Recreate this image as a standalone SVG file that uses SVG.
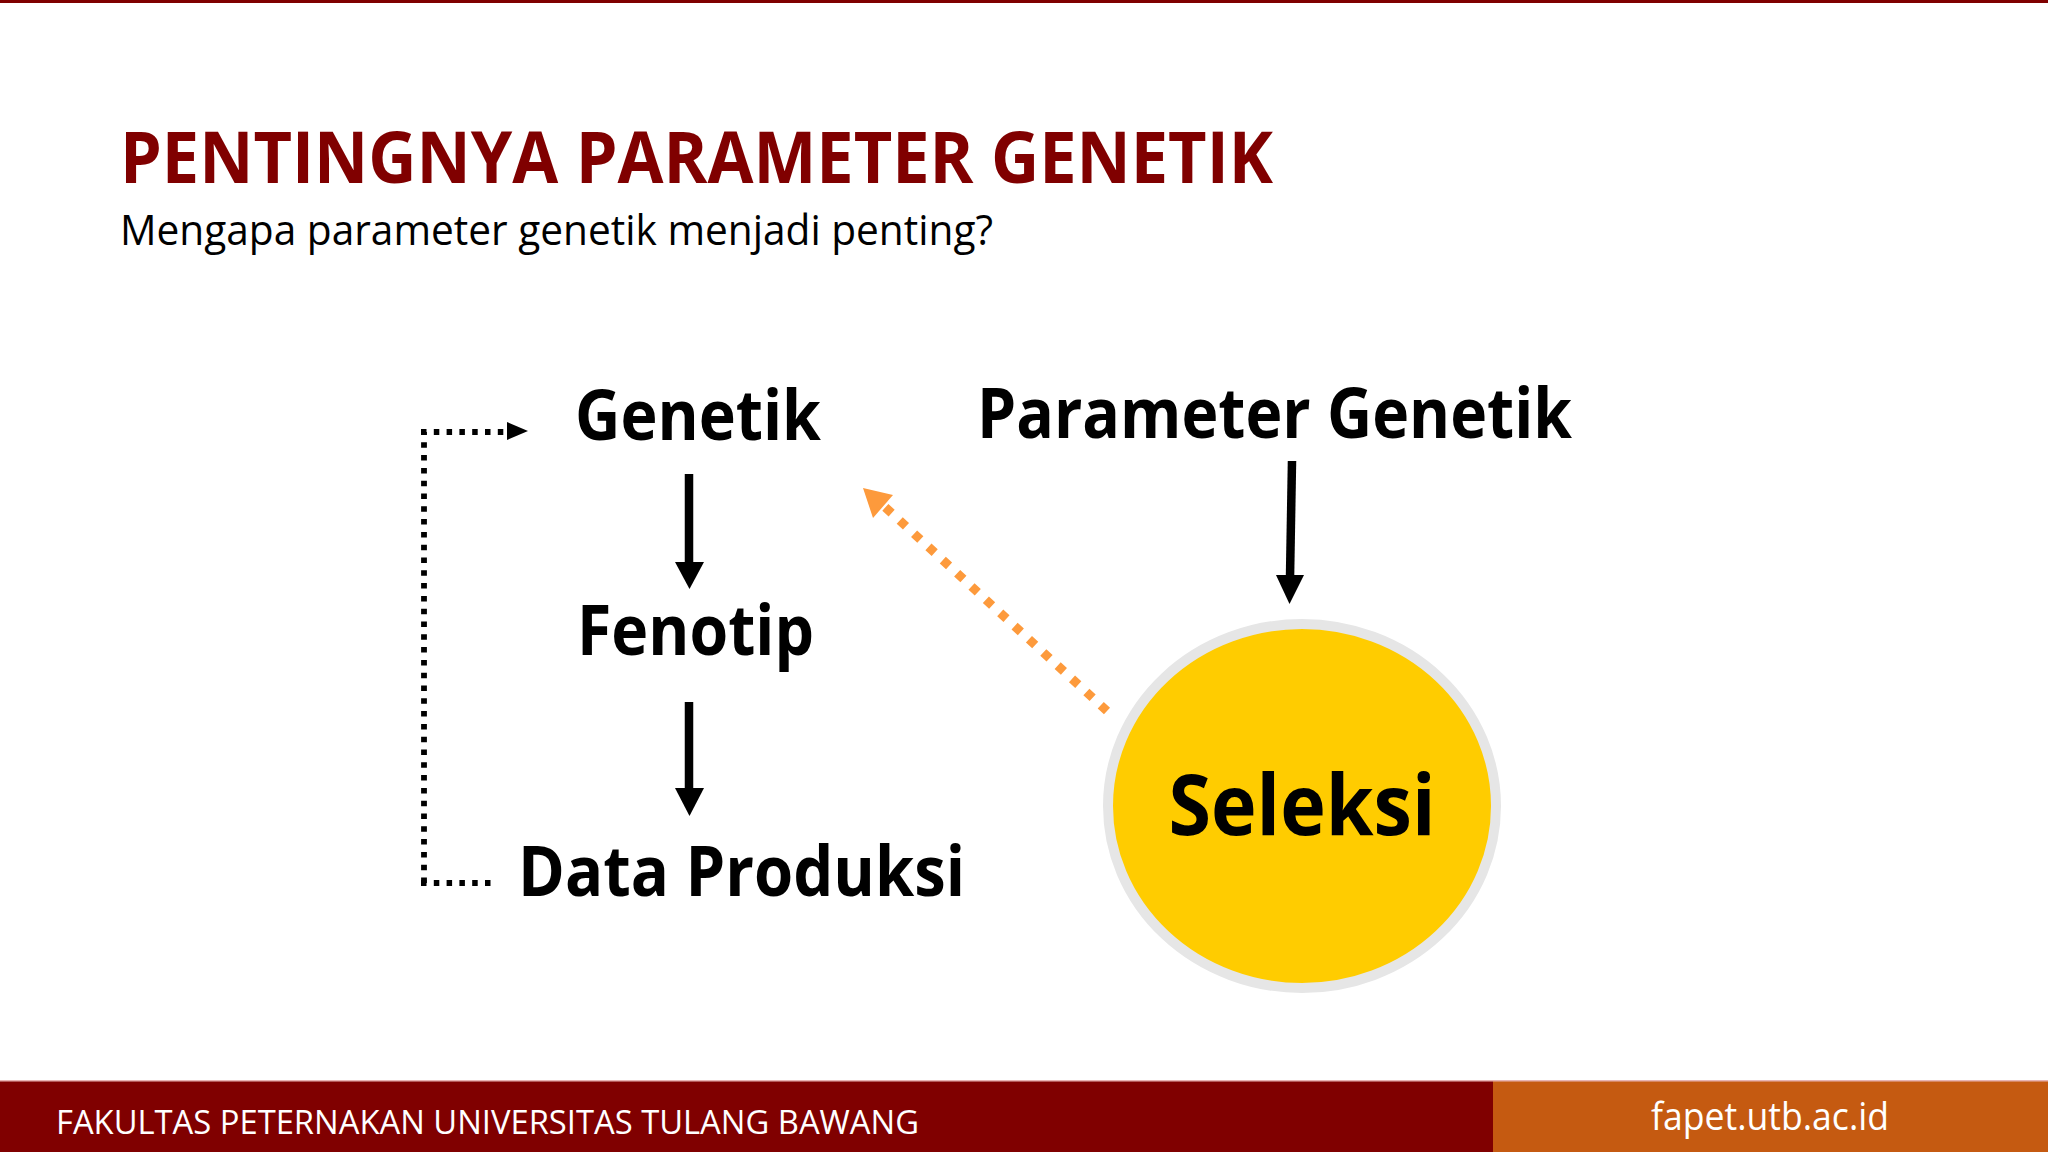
<svg xmlns="http://www.w3.org/2000/svg" width="2048" height="1152" viewBox="0 0 2048 1152">
<style>
.node{font-family:"Open Sans","Noto Sans","Liberation Sans",sans-serif;font-weight:700;fill:#000;}
.title{font-family:"Open Sans","Noto Sans","Liberation Sans",sans-serif;font-weight:700;fill:#800000;}
.sub{font-family:"Open Sans","Noto Sans","Liberation Sans",sans-serif;font-weight:400;fill:#000;}
.foot{font-family:"Open Sans","Noto Sans","Liberation Sans",sans-serif;font-weight:400;fill:#fff;}
.shaft{stroke:#000;stroke-width:8.5;fill:none;}
.loop{stroke:#000;stroke-width:5.8;fill:none;stroke-dasharray:5.5 7.3;}
.orange{stroke:#fd9a3c;stroke-width:9;fill:none;stroke-dasharray:8.5 11;}
</style>
<rect x="0" y="0" width="2048" height="1152" fill="#ffffff"/>
<rect x="0" y="0" width="2048" height="3" fill="#7f0000"/>
<g id="header">
<text class="title" x="120" y="183" font-size="72" textLength="1153" lengthAdjust="spacingAndGlyphs">PENTINGNYA PARAMETER GENETIK</text>
<text class="sub" x="120" y="245" font-size="42" textLength="873" lengthAdjust="spacingAndGlyphs">Mengapa parameter genetik menjadi penting?</text>
</g>
<g id="node-genetik"><text class="node" x="575" y="440" font-size="69" textLength="246" lengthAdjust="spacingAndGlyphs">Genetik</text></g>
<g id="node-fenotip"><text class="node" x="577" y="655" font-size="69" textLength="237" lengthAdjust="spacingAndGlyphs">Fenotip</text></g>
<g id="node-data"><text class="node" x="518" y="896" font-size="69" textLength="447" lengthAdjust="spacingAndGlyphs">Data Produksi</text></g>
<g id="node-parameter"><text class="node" x="977" y="438" font-size="69" textLength="595" lengthAdjust="spacingAndGlyphs">Parameter Genetik</text></g>
<g id="node-seleksi">
<ellipse cx="1302" cy="806" rx="194" ry="182" fill="#ffcc00" stroke="#e6e6e6" stroke-width="10"/>
<text class="node" x="1302" y="835" font-size="85" text-anchor="middle" textLength="267" lengthAdjust="spacingAndGlyphs">Seleksi</text>
</g>
<g id="connectors">
<line class="shaft" x1="689" y1="474" x2="689" y2="565"/>
<polygon points="675,562 704,562 689.5,589" fill="#000"/>
<line class="shaft" x1="689" y1="702" x2="689" y2="791"/>
<polygon points="675,788 704,788 689.5,816" fill="#000"/>
<line class="shaft" x1="1292" y1="461" x2="1290" y2="578"/>
<polygon points="1276,575 1304,575 1289.5,604" fill="#000"/>
<path class="loop" d="M424,883 L424,432"/>
<path class="loop" d="M421,432 L509,432"/>
<path class="loop" d="M421,883 L492,883"/>
<polygon points="507,422 528,431 507,440" fill="#000"/>
<line class="orange" x1="1107" y1="711" x2="885" y2="507"/>
<polygon points="863,488 893,495 873,518" fill="#fd9a3c"/>
</g>
<g id="footer">
<rect x="0" y="1080" width="1493" height="72" fill="#800000"/>
<rect x="1493" y="1080" width="555" height="72" fill="#c55a11"/>
<rect x="0" y="1080" width="2048" height="1.5" fill="#e8b4b4"/>
<text class="foot" x="56" y="1134" font-size="33" textLength="863" lengthAdjust="spacingAndGlyphs">FAKULTAS PETERNAKAN UNIVERSITAS TULANG BAWANG</text>
<text class="foot" x="1651" y="1130" font-size="38" textLength="238" lengthAdjust="spacingAndGlyphs">fapet.utb.ac.id</text>
</g>
</svg>
